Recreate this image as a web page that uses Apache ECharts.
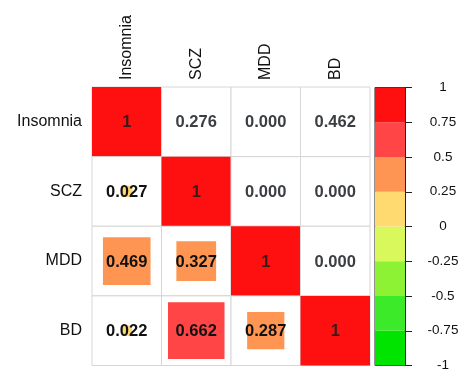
<!DOCTYPE html>
<html>
<head>
<meta charset="utf-8">
<script src="https://cdn.jsdelivr.net/npm/echarts@6/dist/echarts.min.js"></script>
<style>
html,body{margin:0;padding:0;background:#fff;}
#chart{width:474px;height:389px;}
</style>
</head>
<body>
<div id="chart"></div>
<script>
// ---- data ----
const categories = ['Insomnia', 'SCZ', 'MDD', 'BD'];
const rowInsomnia = [1, 0.276, 0.000, 0.462];
const rowSCZ = [0.027, 1, 0.000, 0.000];
const rowMDD = [0.469, 0.327, 1, 0.000];
const rowBD = [0.022, 0.662, 0.287, 1];
const labelInsomnia = ['1', '0.276', '0.000', '0.462'];
const labelSCZ = ['0.027', '1', '0.000', '0.000'];
const labelMDD = ['0.469', '0.327', '1', '0.000'];
const labelBD = ['0.022', '0.662', '0.287', '1'];
const bandEdges = [-1, -0.75, -0.5, -0.25, 0, 0.25, 0.5, 0.75, 1];
const bandColors = ['#00E400', '#3DEA2A', '#8DF234', '#D9F85C', '#FFDA70', '#FF9552', '#FF4545', '#FF1010'];
const colorbarTicks = [-1, -0.75, -0.5, -0.25, 0, 0.25, 0.5, 0.75, 1];

const rows = [rowInsomnia, rowSCZ, rowMDD, rowBD];
const rowLabels = [labelInsomnia, labelSCZ, labelMDD, labelBD];

function colorFor(v) {
  for (let i = 0; i < bandColors.length; i++) {
    if (v >= bandEdges[i] && v <= bandEdges[i + 1]) return bandColors[i];
  }
  return bandColors[bandColors.length - 1];
}

const cellData = [];
rows.forEach((r, ri) => {
  r.forEach((v, ci) => {
    cellData.push([ci, ri, v, rowLabels[ri][ci]]);
  });
});

const bandData = [];
for (let i = 0; i < bandColors.length; i++) {
  bandData.push([0, bandEdges[i], bandEdges[i + 1], i]);
}

const chart = echarts.init(document.getElementById('chart'), null, {renderer: 'canvas'});
const FONT = '"Liberation Sans", Arial, sans-serif';

const option = {
  animation: false,
  backgroundColor: '#ffffff',
  grid: [
    {left: 92, top: 87, width: 278, height: 278.5, show: false},
    {left: 375, top: 87.5, width: 30, height: 278, show: true, borderColor: '#222', borderWidth: 1, backgroundColor: 'transparent'}
  ],
  xAxis: [
    {
      type: 'category', gridIndex: 0, data: categories, position: 'top',
      axisLine: {show: false}, axisTick: {show: false}, splitLine: {show: false},
      axisLabel: {rotate: -90, margin: 7, fontSize: 16, color: '#111', fontFamily: FONT}
    },
    {
      type: 'category', gridIndex: 1, data: ['bar'], show: false
    }
  ],
  yAxis: [
    {
      type: 'category', gridIndex: 0, data: categories, inverse: true,
      axisLine: {show: false}, axisTick: {show: false}, splitLine: {show: false},
      axisLabel: {margin: 10, fontSize: 16, color: '#111', fontFamily: FONT}
    },
    {
      type: 'value', gridIndex: 1, min: -1, max: 1, interval: 0.25, position: 'right',
      axisLine: {show: true, lineStyle: {color: '#222', width: 1}},
      axisTick: {show: true, length: 7, lineStyle: {color: '#222', width: 1}},
      splitLine: {show: false},
      axisLabel: {
        margin: 38, align: 'center', fontSize: 13.5, color: '#111', fontFamily: FONT,
        formatter: function (v) {
          const t = colorbarTicks.find(x => Math.abs(x - v) < 1e-9);
          return t === undefined ? '' : String(t);
        }
      }
    }
  ],
  series: [
    {
      type: 'custom',
      xAxisIndex: 0, yAxisIndex: 0,
      data: cellData,
      renderItem: function (params, api) {
        const ci = api.value(0), ri = api.value(1), v = api.value(2);
        const lab = cellData[params.dataIndex][3];
        const c = api.coord([ci, ri]);
        const s = api.size([1, 1]);
        const w = s[0], h = s[1];
        const children = [];
        children.push({
          type: 'rect',
          shape: {x: c[0] - w / 2, y: c[1] - h / 2, width: w, height: h},
          style: {fill: '#fff', stroke: '#D6D6D6', lineWidth: 1}
        });
        let textColor = '#3b3e42';
        if (ci === ri) {
          children.push({
            type: 'rect',
            shape: {x: c[0] - w / 2, y: c[1] - h / 2, width: w, height: h},
            style: {fill: colorFor(v)}
          });
          textColor = '#3a1a1a';
        } else if (ri > ci) {
          const f = Math.sqrt(Math.abs(v));
          const sw = w * f, sh = h * f;
          children.push({
            type: 'rect',
            shape: {x: c[0] - sw / 2, y: c[1] - sh / 2, width: sw, height: sh},
            style: {fill: colorFor(v)}
          });
          textColor = '#111';
        }
        children.push({
          type: 'text',
          style: {
            x: c[0], y: c[1] + 1, text: lab, align: 'center', verticalAlign: 'middle',
            fill: textColor, font: 'bold 16.5px ' + FONT
          }
        });
        return {type: 'group', children: children};
      },
      z: 2
    },
    {
      type: 'custom',
      xAxisIndex: 1, yAxisIndex: 1,
      data: bandData,
      renderItem: function (params, api) {
        const lo = api.coord([0, api.value(1)]);
        const hi = api.coord([0, api.value(2)]);
        const w = api.size([1, 0])[0];
        const idx = api.value(3);
        return {
          type: 'rect',
          shape: {x: lo[0] - w / 2, y: hi[1], width: w, height: lo[1] - hi[1]},
          style: {fill: bandColors[idx]}
        };
      },
      z: 1
    }
  ]
};
chart.setOption(option);
</script>
</body>
</html>
